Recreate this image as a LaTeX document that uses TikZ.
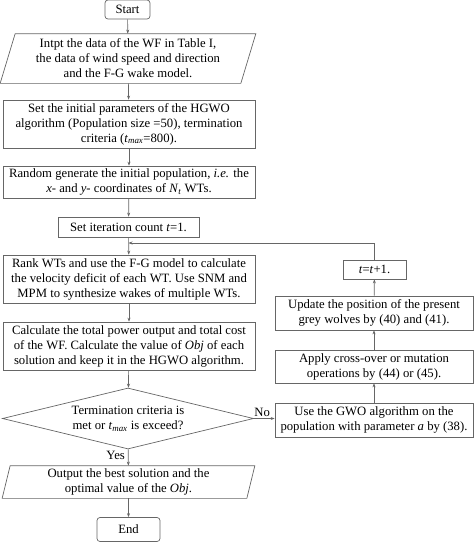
\documentclass[tikz,border=0pt]{standalone}
\usepackage{fontspec}
\setmainfont{Liberation Serif}
\usetikzlibrary{arrows.meta,shapes.geometric,calc}
\begin{document}
\begin{tikzpicture}[x=1pt,y=-1pt,
  font=\fontsize{12.7}{15}\selectfont,
  line width=0.7pt,
  every node/.style={text=black},
  boxnode/.style={draw=black!60,rectangle,align=center,inner sep=0pt},
  roundnode/.style={boxnode,rounded corners=3pt},
  plain/.style={align=center,inner sep=0pt},
  dia/.style={draw=black!60,diamond,aspect=4.1,inner sep=0pt,align=center,minimum width=251,minimum height=61},
  arr/.style={draw=black!60,-{Stealth[length=4pt,width=3pt,fill=black!80]}},
  lab/.style={inner sep=0pt}
]
\useasboundingbox (0,0) rectangle (474,542);

% main column
\node[roundnode,minimum width=45,minimum height=19] (start) at (127.5,9.5) {Start};

\node[plain,minimum width=240,minimum height=49] (inp) at (128,58.5)
  {Intpt the data of the WF in Table I,\\the data of wind speed and direction\\and the F-G wake model.};
\draw[black!60] ([xshift=7.5]inp.north west) -- ([xshift=7.5]inp.north east)
  -- ([xshift=-7.5]inp.south east) -- ([xshift=-7.5]inp.south west) -- cycle;

\node[boxnode,minimum width=252,minimum height=48] (par) at (129,124)
  {Set the initial parameters of the HGWO\\algorithm (Population size =50), termination\\criteria (\textit{t}\textsubscript{\textit{max}}=800).};

\node[boxnode,minimum width=252,minimum height=32] (rnd) at (129,182)
  {Random generate the initial population, \textit{i.e.} the\\\textit{x}- and \textit{y}- coordinates of \textit{N}\textsubscript{\textit{t}} WTs.};

\node[boxnode,minimum width=141,minimum height=20] (iter) at (128.5,227)
  {Set iteration count \textit{t}=1.};

\coordinate (merge) at (128.5,243);

\node[boxnode,minimum width=252,minimum height=48] (rank) at (129,279)
  {Rank WTs and use the F-G model to calculate\\the velocity deficit of each WT. Use SNM and\\MPM to synthesize wakes of multiple WTs.};

\node[boxnode,minimum width=252,minimum height=48] (calc) at (129,346)
  {Calculate the total power output and total cost\\of the WF. Calculate the value of \textit{Obj} of each\\solution and keep it in the HGWO algorithm.};

\node[dia] (dec) at (128,418.5)
  {Termination criteria is\\met or \textit{t}\textsubscript{\textit{max}} is exceed?};

\node[plain,minimum width=244,minimum height=32] (out) at (128.5,482)
  {Output the best solution and the\\optimal value of the \textit{Obj}.};
\draw[black!60] ([xshift=4]out.north west) -- ([xshift=4]out.north east)
  -- ([xshift=-4]out.south east) -- ([xshift=-4]out.south west) -- cycle;

\node[roundnode,minimum width=63,minimum height=24] (end) at (128.5,529.5) {End};

% right column
\node[boxnode,minimum width=63,minimum height=19] (tt) at (374.5,269.5) {\textit{t}=\textit{t}+1.};
\node[boxnode,minimum width=198,minimum height=34] (upd) at (374,313)
  {Update the position of the present\\grey wolves by (40) and (41).};
\node[boxnode,minimum width=198,minimum height=33] (app) at (374,366.5)
  {Apply cross-over or mutation\\operations by (44) or (45).};
\node[boxnode,minimum width=198,minimum height=34] (gwo) at (374,420)
  {Use the GWO algorithm on the\\population with parameter \textit{a} by (38).};

% connectors
\draw[arr] (start) -- (inp);
\draw[arr] (inp) -- (par);
\draw[arr] (par) -- (rnd);
\draw[arr] (rnd) -- (iter);
\draw[arr] (iter) -- (rank);
\draw[arr] (rank) -- (calc);
\draw[arr] (calc) -- (dec);
\draw[arr] (dec) -- node[lab,pos=0.35,left=3pt] {Yes} (out);
\draw[arr] (out) -- (end);
\draw[arr] (dec.east) -- node[lab,above=2pt,pos=0.4] {No} (gwo.west |- dec.east);
\draw[arr] (gwo) -- (app);
\draw[arr] (app) -- (upd);
\draw[arr] (upd) -- (tt);
\draw[arr] (tt.north) |- (merge);
\end{tikzpicture}
\end{document}
